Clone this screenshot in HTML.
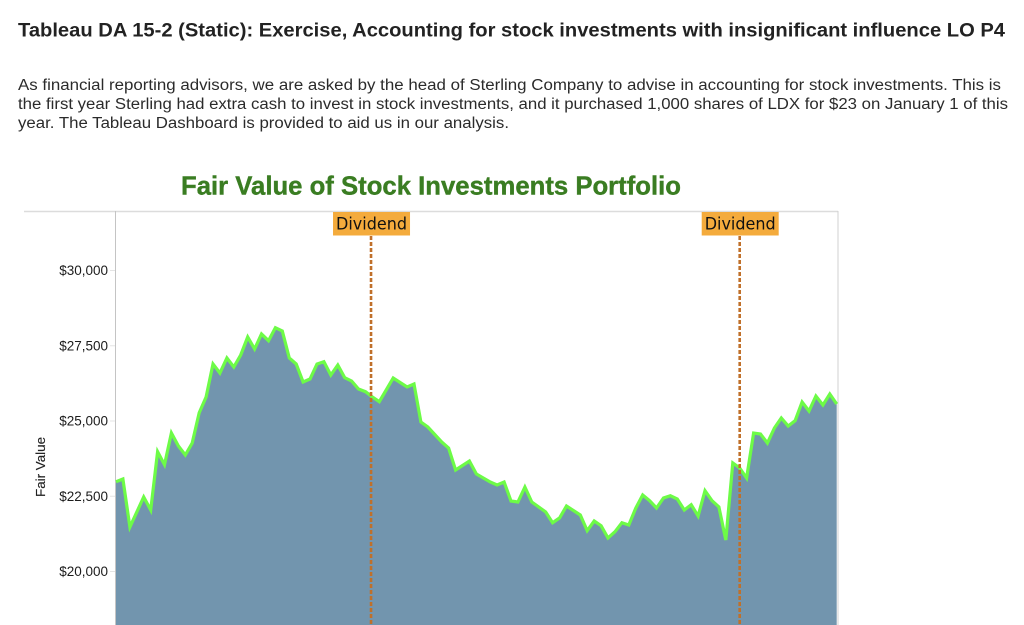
<!DOCTYPE html>
<html lang="en">
<head>
<meta charset="utf-8">
<title>Fair Value of Stock Investments Portfolio</title>
<style>
html,body{margin:0;padding:0;background:#fff;width:1024px;height:625px;overflow:hidden}
svg{display:block}
text{font-family:"Liberation Sans",sans-serif}
</style>
</head>
<body>
<svg id="chart" width="1024" height="625" viewBox="0 0 1024 625" xmlns="http://www.w3.org/2000/svg">
  <text x="18" y="36.5" font-size="19.5" font-weight="bold" fill="#222" textLength="987" lengthAdjust="spacingAndGlyphs">Tableau DA 15-2 (Static): Exercise, Accounting for stock investments with insignificant influence LO P4</text>
  <text x="18" y="90" font-size="15.5" fill="#2b2b2b" textLength="983" lengthAdjust="spacingAndGlyphs">As financial reporting advisors, we are asked by the head of Sterling Company to advise in accounting for stock investments. This is</text>
  <text x="18" y="109" font-size="15.5" fill="#2b2b2b" textLength="990" lengthAdjust="spacingAndGlyphs">the first year Sterling had extra cash to invest in stock investments, and it purchased 1,000 shares of LDX for $23 on January 1 of this</text>
  <text x="18" y="128" font-size="15.5" fill="#2b2b2b" textLength="491" lengthAdjust="spacingAndGlyphs">year. The Tableau Dashboard is provided to aid us in our analysis.</text>
  <text x="181" y="194.5" font-size="26" font-weight="bold" fill="#3a7d22" stroke="#3a7d22" stroke-width="0.4" textLength="500" lengthAdjust="spacingAndGlyphs">Fair Value of Stock Investments Portfolio</text>
  <line x1="24" y1="211.5" x2="838" y2="211.5" stroke="#dcdcdc" stroke-width="1.5"/>
  <line x1="838" y1="211" x2="838" y2="625" stroke="#d0d0d0" stroke-width="1"/>
  <text transform="translate(45,467) rotate(-90)" text-anchor="middle" font-size="12.5" fill="#222" stroke="#222" stroke-width="0.15" textLength="60" lengthAdjust="spacingAndGlyphs">Fair Value</text>
  <g id="layer"></g>
</svg>
<script>
const weekIndex = [0,1,2,4,5,6,7,8,9,10,11,12,13,14,15,16,17,18,19,20,21,22,23,24,25,26,27,28,29,30,31,32,33,34,35,36,37,38,40,42,43,44,45,47,48,49,51,52,54,55,56,57,58,59,60,62,63,64,65,67,68,69,70,71,72,73,74,75,76,77,78,79,80,81,82,83,84,85,86,87,88,89,90,91,92,93,94,95,96,97,98,99,100,101,102,103,104];
const fairValue = [22984,23074,21479,22476,22044,23980,23549,24602,24170,23871,24270,25276,25798,26894,26595,27093,26794,27193,27791,27392,27891,27668,28100,27990,27093,26894,26296,26396,26894,26970,26529,26861,26439,26329,26063,25974,25798,25641,26429,26130,26230,24967,24801,24303,24103,23373,23672,23240,22974,22874,22974,22343,22310,22808,22310,21977,21622,21778,22177,21878,21356,21678,21522,21114,21323,21622,21546,22110,22542,22353,22110,22443,22519,22409,22044,22220,21845,22685,22353,22143,21047,23605,23439,23107,24602,24569,24270,24768,25100,24834,25010,25632,25333,25831,25532,25897,25565];
const tickValues = [30000,27500,25000,22500,20000];
const tickLabels = ['$30,000','$27,500','$25,000','$22,500','$20,000'];
const dividendWeeks = [36.8,90];
const dividendLabels = ['Dividend','Dividend'];
const baselineValue = 18000;

const NS = 'http://www.w3.org/2000/svg';
const layer = document.getElementById('layer');
function xScale(w){ return 116 + w * 6.93; }
function yScale(v){ return 270.5 + (30000 - v) * 0.0301; }
function make(tag, attrs, parent){
  const el = document.createElementNS(NS, tag);
  for (const k in attrs) el.setAttribute(k, attrs[k]);
  (parent || layer).appendChild(el);
  return el;
}

const linePts = weekIndex.map((w, i) => xScale(w).toFixed(1) + ',' + yScale(fairValue[i]).toFixed(1));
const firstX = xScale(weekIndex[0]).toFixed(1);
const lastX = xScale(weekIndex[weekIndex.length - 1]).toFixed(1);
const baseY = yScale(baselineValue).toFixed(1);

const area = make('polygon', {points: firstX + ',' + baseY + ' ' + linePts.join(' ') + ' ' + lastX + ',' + baseY, fill: '#7295ae'});



const axisLine = make('line', {x1: 115.5, y1: 211, x2: 115.5, y2: 625, stroke: '#c4c4c4', 'stroke-width': 1});



tickValues.forEach((v, i) => {
  const y = yScale(v);
  const tick = make('line', {x1: 110, y1: y, x2: 115, y2: y, stroke: '#e4e4e4', 'stroke-width': 1});
  
  
  const label = make('text', {x: 108, y: y + 4.5, 'text-anchor': 'end', 'font-size': 13.5, fill: '#1c1c1c'});
  
  
  label.textContent = tickLabels[i];
});

const line = make('polyline', {points: linePts.join(' '), fill: 'none', stroke: '#6dfb47', 'stroke-width': 3.2, 'stroke-linejoin': 'miter'});



dividendWeeks.forEach((w, i) => {
  const x = xScale(w);
  const rule = make('line', {x1: x, y1: 236, x2: x, y2: 625, stroke: '#c0702a', 'stroke-width': 2.6, 'stroke-dasharray': '4 2'});
  
  
  const box = make('rect', {x: x - 38, y: 212, width: 77, height: 23.5, fill: '#f4ab3c'});
  
  
  const label = make('text', {x: x + 0.5, y: 229.5, 'text-anchor': 'middle', 'font-size': 16.5, fill: '#111', textLength: 71, lengthAdjust: 'spacingAndGlyphs'});
  label.style.fontFamily = '"DejaVu Sans",sans-serif';
  
  
  label.textContent = dividendLabels[i];
});
</script>
</body>
</html>
